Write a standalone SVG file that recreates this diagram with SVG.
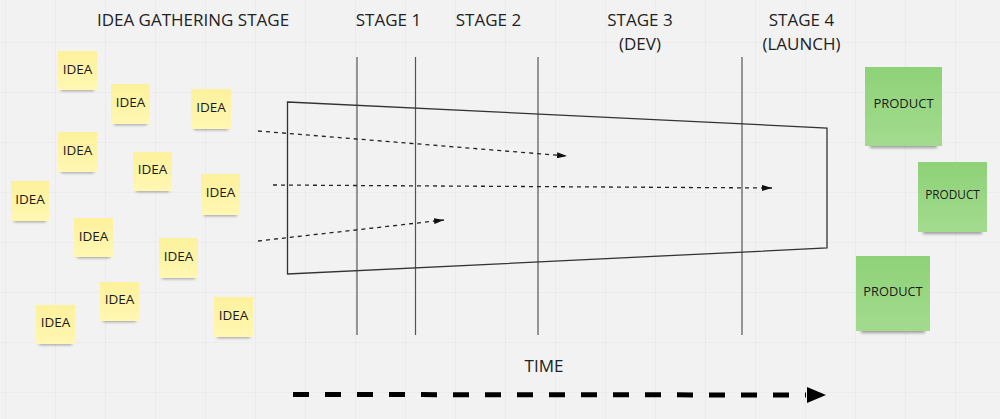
<svg xmlns="http://www.w3.org/2000/svg" width="1000" height="419" viewBox="0 0 1000 419">
  <defs>
    <pattern id="grid" x="5" y="42" width="50" height="50" patternUnits="userSpaceOnUse">
      <path d="M0 0 V50 M0 0 H50" fill="none" stroke="#e6e6e6" stroke-width="1.2"/>
    </pattern>
    <linearGradient id="yel" x1="0" y1="0" x2="0" y2="1">
      <stop offset="0" stop-color="#fdf19c"/>
      <stop offset="1" stop-color="#fff7b3"/>
    </linearGradient>
    <linearGradient id="grn" x1="0" y1="0" x2="0" y2="1">
      <stop offset="0" stop-color="#8ed278"/>
      <stop offset="1" stop-color="#a3db8e"/>
    </linearGradient>
    <filter id="sh" x="-20%" y="-100%" width="140%" height="300%">
      <feGaussianBlur stdDeviation="1.6"/>
    </filter>
    <marker id="ah" viewBox="0 0 10 6" refX="10" refY="3" markerWidth="10" markerHeight="6" markerUnits="userSpaceOnUse" orient="auto">
      <path d="M0 0 L10 3 L0 6 z" fill="#111"/>
    </marker>
  </defs>
  <style>
    .lbl { font-family: "Open Sans", "Liberation Sans", sans-serif; font-size: 17px; fill: #222; text-anchor: middle; }
    .idea rect.n { fill: url(#yel); }
    .prod rect.n { fill: url(#grn); }
    .shadow { fill: #000; opacity: 0.35; filter: url(#sh); }
    .nt { font-family: "Open Sans", "Liberation Sans", sans-serif; font-size: 13.5px; fill: #1a1a1a; text-anchor: middle; }
    .pt { font-family: "Open Sans", "Liberation Sans", sans-serif; font-size: 12.8px; fill: #1a1a1a; text-anchor: middle; }
    .stage { stroke: #555; stroke-width: 1.2; fill: none; }
    .thin { stroke: #222; stroke-width: 1.3; stroke-dasharray: 4 4; fill: none; }
  </style>

  <rect width="1000" height="419" fill="#f2f2f2"/>
  <rect width="1000" height="419" fill="url(#grid)"/>

  <!-- headings -->
  <g id="headings">
    <text class="lbl" x="193" y="26">IDEA GATHERING STAGE</text>
    <text class="lbl" x="388.5" y="26">STAGE 1</text>
    <text class="lbl" x="488.5" y="26">STAGE 2</text>
    <text class="lbl" x="640" y="26">STAGE 3</text>
    <text class="lbl" x="640" y="50">(DEV)</text>
    <text class="lbl" x="801.5" y="26">STAGE 4</text>
    <text class="lbl" x="801.5" y="50">(LAUNCH)</text>
    <text class="lbl" x="544" y="372">TIME</text>
  </g>

  <!-- stage lines and funnel -->
  <g id="stages">
    <line class="stage" x1="357" y1="57" x2="357" y2="335"/>
    <line class="stage" x1="415.5" y1="57" x2="415.5" y2="335"/>
    <line class="stage" x1="538" y1="57" x2="538" y2="335"/>
    <line class="stage" x1="742" y1="57" x2="742" y2="335"/>
  </g>
  <g id="funnel">
    <polygon points="287.5,102 827,128 827,248 287.5,274" fill="none" stroke="#333" stroke-width="1.3"/>
  </g>

  <!-- ideas -->
  <g id="idea1" class="idea"><rect class="shadow" x="61" y="87" width="33" height="4"/><rect class="n" x="58" y="51" width="39" height="39"/><text class="nt" x="77.5" y="74">IDEA</text></g>
  <g id="idea2" class="idea"><rect class="shadow" x="114" y="121" width="33" height="4"/><rect class="n" x="111" y="84" width="39" height="40"/><text class="nt" x="130.5" y="107">IDEA</text></g>
  <g id="idea3" class="idea"><rect class="shadow" x="194" y="126" width="34" height="4"/><rect class="n" x="191" y="89" width="40" height="40"/><text class="nt" x="211" y="112">IDEA</text></g>
  <g id="idea4" class="idea"><rect class="shadow" x="61" y="169" width="33" height="4"/><rect class="n" x="58" y="132" width="39" height="40"/><text class="nt" x="77.5" y="155">IDEA</text></g>
  <g id="idea5" class="idea"><rect class="shadow" x="136" y="188" width="33" height="4"/><rect class="n" x="133" y="152" width="39" height="39"/><text class="nt" x="152.5" y="174">IDEA</text></g>
  <g id="idea6" class="idea"><rect class="shadow" x="204" y="212" width="33" height="4"/><rect class="n" x="201" y="174" width="39" height="41"/><text class="nt" x="220.5" y="197">IDEA</text></g>
  <g id="idea7" class="idea"><rect class="shadow" x="14" y="218" width="32" height="4"/><rect class="n" x="11" y="181" width="38" height="40"/><text class="nt" x="30" y="204">IDEA</text></g>
  <g id="idea8" class="idea"><rect class="shadow" x="77" y="254" width="33" height="4"/><rect class="n" x="74" y="218" width="39" height="39"/><text class="nt" x="93.5" y="241">IDEA</text></g>
  <g id="idea9" class="idea"><rect class="shadow" x="162" y="275" width="33" height="4"/><rect class="n" x="159" y="238" width="39" height="40"/><text class="nt" x="178.5" y="261">IDEA</text></g>
  <g id="idea10" class="idea"><rect class="shadow" x="103" y="318" width="33" height="4"/><rect class="n" x="100" y="282" width="39" height="39"/><text class="nt" x="119.5" y="304">IDEA</text></g>
  <g id="idea11" class="idea"><rect class="shadow" x="39" y="341" width="33" height="4"/><rect class="n" x="36" y="305" width="39" height="39"/><text class="nt" x="55.5" y="327">IDEA</text></g>
  <g id="idea12" class="idea"><rect class="shadow" x="217" y="334" width="33" height="4"/><rect class="n" x="214" y="297" width="39" height="40"/><text class="nt" x="233.5" y="320">IDEA</text></g>

  <!-- products -->
  <g id="product1" class="prod"><rect class="shadow" x="870" y="143" width="67" height="5"/><rect class="n" x="865" y="67" width="77" height="79"/><text class="pt" x="903.5" y="108" style="font-size:13px">PRODUCT</text></g>
  <g id="product2" class="prod"><rect class="shadow" x="923" y="229" width="59" height="5"/><rect class="n" x="918" y="162" width="69" height="70"/><text class="pt" x="952.5" y="199" style="font-size:11.8px">PRODUCT</text></g>
  <g id="product3" class="prod"><rect class="shadow" x="861" y="328" width="64" height="5"/><rect class="n" x="856" y="256" width="74" height="75"/><text class="pt" x="893" y="296">PRODUCT</text></g>

  <!-- connectors -->
  <g id="connectors">
    <line class="thin" x1="258" y1="131" x2="567" y2="156" marker-end="url(#ah)"/>
    <line class="thin" x1="273" y1="185" x2="772" y2="188" marker-end="url(#ah)"/>
    <line class="thin" x1="258" y1="241" x2="444" y2="220" marker-end="url(#ah)"/>
    <line x1="293" y1="394.5" x2="806" y2="395" stroke="#000" stroke-width="5" stroke-dasharray="16 16"/>
    <polygon points="807,387 826,395 807,403" fill="#000"/>
  </g>
</svg>
